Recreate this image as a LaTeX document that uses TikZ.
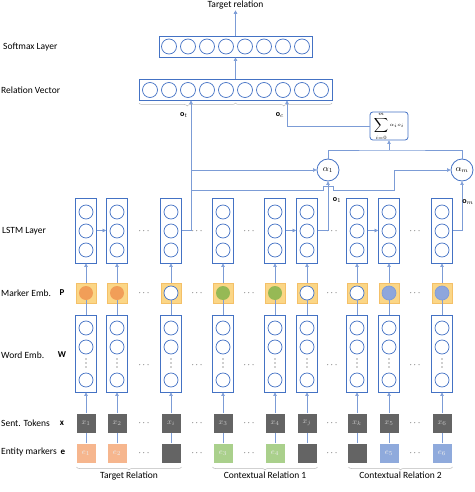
\documentclass[tikz,border=0pt]{standalone}
\usepackage{fontspec}
\setmainfont{Carlito}
\usepackage{tikz}
\usetikzlibrary{arrows.meta,decorations.pathreplacing}

\definecolor{lnblue}{RGB}{68,114,196}
\definecolor{mkbg}{RGB}{251,214,134}
\definecolor{mkedge}{RGB}{244,192,104}
\definecolor{mkorange}{RGB}{241,158,88}
\definecolor{mkgreen}{RGB}{150,185,85}
\definecolor{mkblue}{RGB}{142,166,220}
\definecolor{enorange}{RGB}{246,182,142}
\definecolor{engreen}{RGB}{170,208,140}
\definecolor{enblue}{RGB}{143,170,220}
\definecolor{tokgray}{RGB}{100,100,100}

\tikzset{
  unit/.style={draw=lnblue,line width=0.7pt},
  vecbox/.style={draw=lnblue,line width=0.8pt,inner sep=0pt},
  lstmbox/.style={vecbox,minimum width=21,minimum height=65},
  wordbox/.style={vecbox,minimum width=21,minimum height=77},
  markbox/.style={fill=mkbg,draw=mkedge,line width=0.4pt,minimum size=20,inner sep=0pt},
  markdot/.style={circle,minimum size=14,inner sep=0pt,line width=0.7pt},
  mkor/.style={fill=mkorange},
  mkgr/.style={fill=mkgreen},
  mkbl/.style={fill=mkblue,draw=mkblue!80!lnblue},
  mkwh/.style={fill=white,draw=lnblue},
  tokbox/.style={fill=tokgray,text=white!78!black,minimum size=19,inner sep=0pt,font=\fontsize{8}{9}\selectfont},
  entbox/.style={minimum size=19,inner sep=0pt,text=white!85!gray,font=\fontsize{8}{9}\selectfont},
  enor/.style={fill=enorange},
  engr/.style={fill=engreen},
  enbl/.style={fill=enblue},
  endk/.style={fill=tokgray},
  attn/.style={circle,draw=lnblue,line width=0.8pt,minimum size=22,inner sep=0pt,font=\fontsize{9}{10}\selectfont},
  sumbox/.style={draw=lnblue,line width=0.8pt,rounded corners=3pt,minimum width=38,minimum height=26,inner sep=0pt},
  link/.style={draw=lnblue!70,line width=0.6pt},
  arr/.style={link,-{Triangle[length=3.5pt,width=3.5pt]}},
  brc/.style={draw=gray!55,line width=0.5pt,decorate,decoration={brace,mirror,amplitude=3pt}},
  side/.style={anchor=west,inner sep=0pt,font=\fontsize{9.5}{11}\selectfont},
  sym/.style={inner sep=0pt,font=\fontsize{9}{10}\selectfont},
  olbl/.style={inner sep=0pt,font=\fontsize{8}{9}\selectfont},
  dots/.style={inner sep=0pt,font=\fontsize{9}{10}\selectfont},
  grp/.style={midway,below=5pt,inner sep=0pt,font=\fontsize{9.5}{11}\selectfont},
}

\begin{document}
\begin{tikzpicture}[x=1pt,y=-1pt]
\useasboundingbox (0,0) rectangle (474,492);
%\draw[color=black!20,step=10] (0,0) grid (474,492);

% layer names
\node[side] (nsoft) at (3,47) {Softmax Layer};
\node[side] (nrel) at (1,90) {Relation Vector};
\node[side] (nlstm) at (2,231) {LSTM Layer};
\node[side] (nmark) at (1,293) {Marker Emb.};
\node[side] (nword) at (1,355) {Word Emb.};
\node[side] (nsent) at (1,423) {Sent. Tokens};
\node[side] (nent) at (1,452) {Entity markers};
\node[sym] (sp) at (62,293) {$\mathbf{P}$};
\node[sym] (sw) at (62,355) {$\mathbf{W}$};
\node[sym] (sx) at (62,423) {$\mathbf{x}$};
\node[sym] (se) at (63,452) {$\mathbf{e}$};

% columns
\foreach \i/\x/\mk/\en/\tok/\ent in {
  1/86/mkor/enor/{$x_1$}/{$e_1$},
  2/117/mkor/enor/{$x_2$}/{$e_2$},
  3/171/mkwh/endk/{$x_i$}/{},
  4/223/mkgr/engr/{$x_3$}/{$e_3$},
  5/275/mkgr/engr/{$x_4$}/{$e_4$},
  6/307/mkwh/endk/{$x_j$}/{},
  7/357/mkwh/endk/{$x_k$}/{},
  8/389/mkbl/enbl/{$x_5$}/{$e_5$},
  9/442/mkbl/enbl/{$x_6$}/{$e_6$}}{
  \node[lstmbox] (l\i) at (\x,230.5) {};
  \foreach \y in {212,231,250} \draw[unit] (\x,\y) circle (7);
  \node[markbox] (m\i) at (\x,293) {};
  \node[markdot,\mk] (p\i) at (\x,293) {};
  \node[wordbox] (w\i) at (\x,353.5) {};
  \foreach \y in {328,347,380} \draw[unit] (\x,\y) circle (7);
  \foreach \dy in {-4,0,4} \fill[black!80] (\x,363+\dy) circle (0.7);
  \node[tokbox] (x\i) at (\x,423) {\tok};
  \node[entbox,\en] (e\i) at (\x,453) {\ent};
  \draw[link] (e\i) -- (x\i);
  \draw[arr] (x\i) -- (w\i);
  \draw[link] (w\i) -- (p\i);
  \draw[arr] (m\i) -- (l\i);
}

% dots between columns
\foreach \d/\dx in {a/144,b/197,c/249,d/332,e/415}
  \foreach \r/\ry in {1/231,2/293,3/365,4/423,5/453}
    \node[dots] (g\d\r) at (\dx,\ry) {$\cdots$};

% recurrent links
\draw[arr] (l1) -- (l2);
\draw[arr] (l5) -- (l6);
\draw[arr] (l7) -- (l8);

% top layers
\node[vecbox,minimum width=193,minimum height=21] (rel) at (235.5,90) {};
\foreach \k in {0,...,9} \draw[unit] (150+\k*19,90) circle (7.5);
\node[vecbox,minimum width=153,minimum height=21] (soft) at (235.5,46.5) {};
\foreach \k in {0,...,7} \draw[unit] (169+\k*19,46.5) circle (7.5);
\node[inner sep=1pt,font=\fontsize{9.5}{11}\selectfont] (tgt) at (235.5,5) {Target relation};
\draw[arr] (rel) -- (soft);
\draw[arr] (soft) -- (tgt);
\draw[brc] (139,103) -- (235.5,103);
\draw[brc] (235.5,103) -- (332,103);

% attention
\node[attn] (a1) at (328,170) {$\alpha_1$};
\node[attn] (am) at (462,170) {$\alpha_m$};
\node[sumbox] (sum) at (389,126)
  {\fontsize{5.5}{6}\selectfont$\displaystyle\sum_{i=0}^{m}\alpha_i o_i$};
\coordinate (ot) at (191,100.5);
\coordinate (oc) at (287,100.5);
\coordinate (q1) at (191,170);
\coordinate (q2) at (191,190);
\coordinate (bar) at (389,150);
\draw[arr] (l3.east) -| (ot);
\draw[arr] (q1) -- (a1);
\draw[arr] (q2) -- (323,190) -- (323,186) -- (333,186) -- (333,190) -- (394,190) |- (am.west);
\draw[arr] (l6.east) -| (a1.south);
\draw[arr] (l9.east) -| (am.south);
\draw[link] (a1.north) |- (bar) -| (am.north);
\draw[arr] (bar) -- (sum);
\draw[arr] (sum.west) -| (oc);
\node[olbl] (lot) at (184,115) {$\mathbf{o}_t$};
\node[olbl] (loc) at (280,115) {$\mathbf{o}_c$};
\node[olbl] (lo1) at (337,200) {$\mathbf{o}_1$};
\node[olbl] (lom) at (468,202) {$\mathbf{o}_m$};

% groups
\draw[brc] (76.5,467) -- (181.5,467) node[grp] (gt) {Target Relation};
\draw[brc] (212.5,467) -- (317.5,467) node[grp] (gc1) {Contextual Relation 1};
\draw[brc] (348.5,467) -- (452.5,467) node[grp] (gc2) {Contextual Relation 2};
\end{tikzpicture}
\end{document}
